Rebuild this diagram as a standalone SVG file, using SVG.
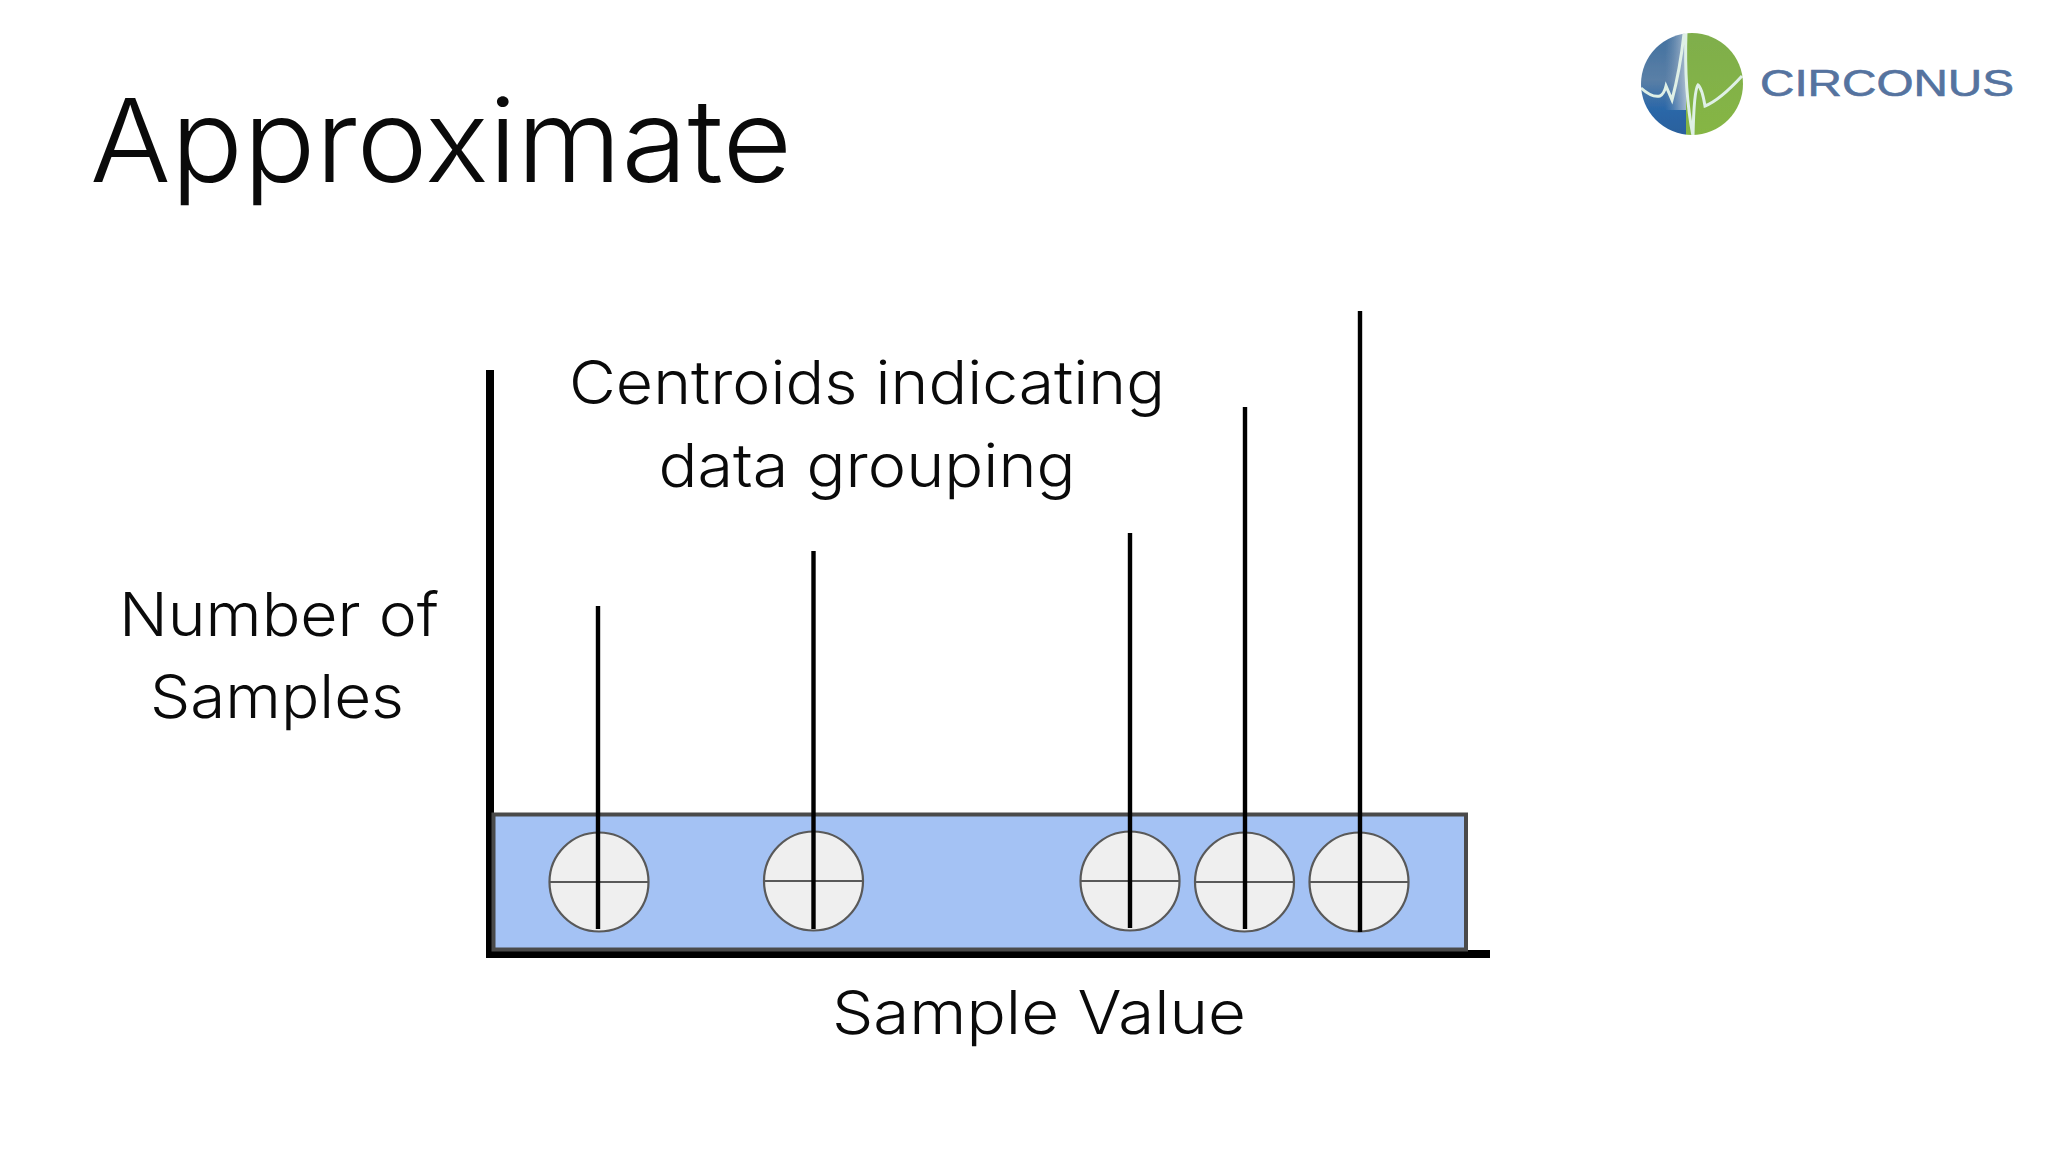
<svg xmlns="http://www.w3.org/2000/svg" width="2048" height="1152" viewBox="0 0 2048 1152">
<style>
text{font-family:"Inter","Liberation Sans",sans-serif;fill:#0a0a0a;font-variant-ligatures:none}
.lb{font-size:60px;text-anchor:middle;font-weight:350}
.c{fill:#efefef;stroke:#595959;stroke-width:2.2}
.h{stroke:#595959;stroke-width:2.2}
.v{stroke:#000;stroke-width:4.4;fill:none}
.ax{stroke:#000;stroke-width:8;fill:none}
</style>
<defs>
<linearGradient id="b" x1="0" y1="0" x2="0" y2="1"><stop offset="0" stop-color="#3f6f9f"/><stop offset="0.45" stop-color="#5a7fa6"/><stop offset="0.72" stop-color="#2a67a8"/><stop offset="1" stop-color="#2c5f9a"/></linearGradient>
<linearGradient id="m" x1="0" y1="0" x2="1" y2="0"><stop offset="0" stop-color="#7f9ab8" stop-opacity="0"/><stop offset="1" stop-color="#c4d0dc"/></linearGradient>
<linearGradient id="g" x1="0" y1="0" x2="0" y2="1"><stop offset="0" stop-color="#7fae4c"/><stop offset="1" stop-color="#86b643"/></linearGradient>
<filter id="bl"><feGaussianBlur stdDeviation="0.7"/></filter>
<clipPath id="cl"><circle cx="1692" cy="84" r="51"/></clipPath>
</defs>
<rect width="2048" height="1152" fill="#fff"/>
<text id="title" x="90" y="182" style="font-size:116px;font-weight:350" textLength="702" lengthAdjust="spacingAndGlyphs">Approximate</text>
<g id="logo">
<g clip-path="url(#cl)" filter="url(#bl)">
<rect x="1640" y="30" width="50" height="110" fill="url(#b)"/>
<rect x="1665" y="30" width="25" height="80" fill="url(#m)"/>
<rect x="1686" y="30" width="58" height="110" fill="url(#g)"/>
<path d="M1641 88Q1652 98 1660 96Q1664 94 1666 86L1672 100Q1680 70 1684 34M1686 32Q1684 90 1693 136Q1694 90 1698 85Q1702 88 1705 106Q1720 100 1742 76" fill="none" stroke="#dff0e6" stroke-width="3"/>
</g>
</g>
<text x="1760" y="96" style="font-size:36px;fill:#55739f;stroke:#55739f;stroke-width:0.6;font-family:'Liberation Sans',sans-serif" textLength="254" lengthAdjust="spacingAndGlyphs">CIRCONUS</text>
<g id="axes"><path class="ax" d="M490 370V958M486 954H1490"/></g>
<g id="bar"><rect x="493.500" y="814.500" width="972.500" height="135" fill="#a4c2f4" stroke="#4a4a4a" stroke-width="4"/></g>
<g id="node1"><circle class="c" cx="599" cy="882" r="49.500"/><path class="h" d="M549 882H649"/></g>
<g id="node2"><circle class="c" cx="813.500" cy="881" r="49.500"/><path class="h" d="M764 881H863"/></g>
<g id="node3"><circle class="c" cx="1130" cy="881" r="49.500"/><path class="h" d="M1080 881H1180"/></g>
<g id="node4"><circle class="c" cx="1244.500" cy="882" r="49.500"/><path class="h" d="M1195 882H1294"/></g>
<g id="node5"><circle class="c" cx="1359" cy="882" r="49.500"/><path class="h" d="M1309 882H1409"/></g>
<g id="connectors">
<path class="v" d="M598 606V929"/><path class="v" d="M813.500 551V929"/><path class="v" d="M1130 533V928"/><path class="v" d="M1245 407V929"/><path class="v" d="M1360 311V932"/>
</g>
<text class="lb" x="867" y="404" textLength="596" lengthAdjust="spacingAndGlyphs">Centroids indicating</text>
<text class="lb" x="867" y="487" textLength="417" lengthAdjust="spacingAndGlyphs">data grouping</text>
<text class="lb" x="279" y="636" textLength="320" lengthAdjust="spacingAndGlyphs">Number of</text>
<text class="lb" x="277" y="718" textLength="254" lengthAdjust="spacingAndGlyphs">Samples</text>
<text class="lb" x="1039" y="1034" textLength="414" lengthAdjust="spacingAndGlyphs">Sample Value</text>
</svg>
